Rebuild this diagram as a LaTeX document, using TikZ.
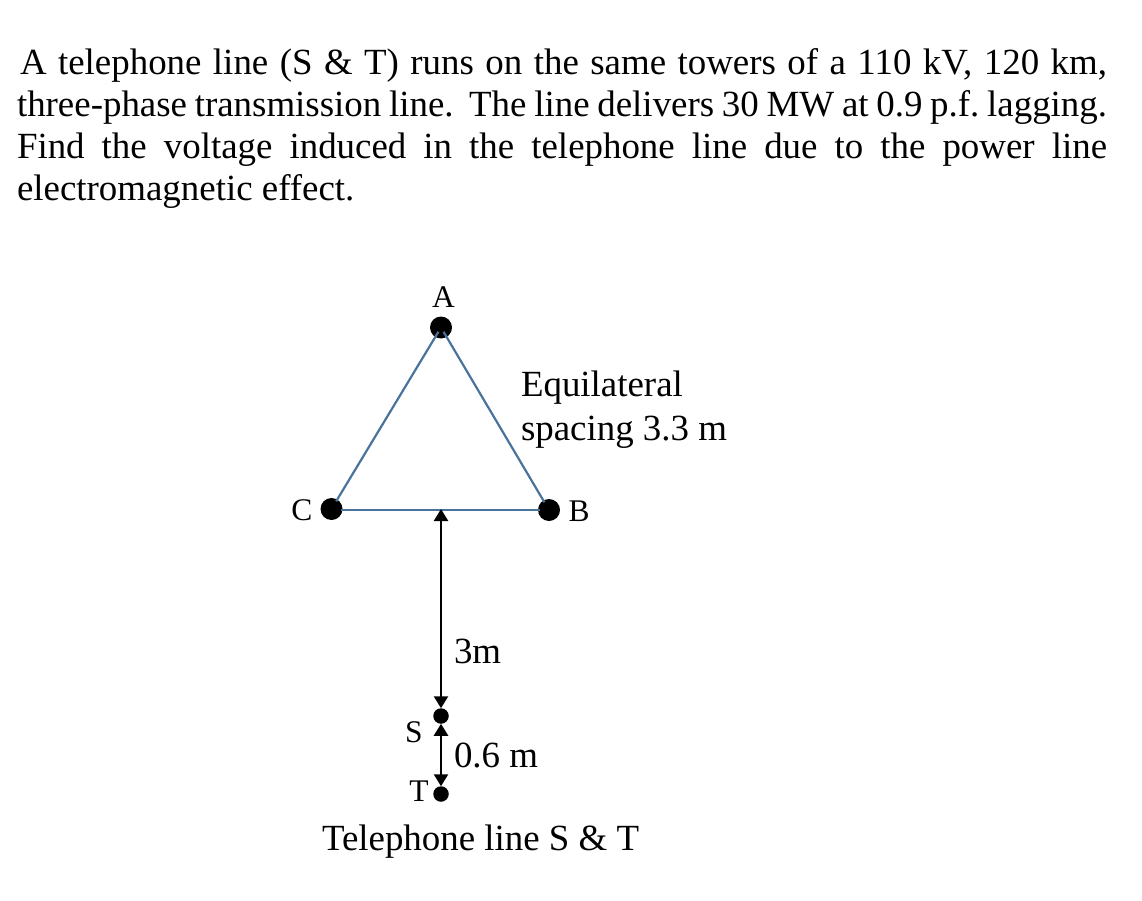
\documentclass[tikz,border=0pt]{standalone}
\usepackage{fontspec}
\setmainfont{Liberation Serif}
\usetikzlibrary{arrows.meta}
\definecolor{edgeblue}{HTML}{4A739C}
\tikzset{
  x=1pt,y=-1pt,
  body/.style={inner sep=0pt,outer sep=0pt,anchor=base west,font=\fontsize{36.9pt}{42pt}\selectfont},
  lab/.style={inner sep=0pt,outer sep=0pt,anchor=base,font=\fontsize{31.5pt}{36pt}\selectfont},
  bigdot/.style={circle,fill=black,minimum size=22pt,inner sep=0pt,outer sep=0pt},
  smalldot/.style={circle,fill=black,minimum size=15.5pt,inner sep=0pt,outer sep=0pt},
  edge/.style={draw=edgeblue,line width=2.2pt},
  dimboth/.style={draw=black,line width=2.4pt,{Triangle[length=12pt,width=14pt]}-{Triangle[length=12pt,width=14pt]}},
}
\begin{document}
\frenchspacing
\begin{tikzpicture}
\useasboundingbox (0,0) rectangle (1142,901);
\node[inner sep=0pt,outer sep=0pt,anchor=north west,text width=1090pt,align=justify,font=\fontsize{36.9pt}{42pt}\selectfont] (para) at (17,49)
{\hspace*{3pt}A telephone line (S \& T) runs on the same towers of a 110 kV, 120 km,\linebreak
three-phase transmission line.\ \ The line delivers 30 MW at 0.9 p.f. lagging.\linebreak
Find the voltage induced in the telephone line due to the power line\linebreak
electromagnetic effect.};
\node[bigdot] (A) at (441,327.5) {};
\node[bigdot] (C) at (331.5,509) {};
\node[bigdot] (B) at (549,510) {};
\node[smalldot] (S) at (441,716) {};
\node[smalldot] (T) at (441,794) {};
\coordinate (M) at (441,509);
\draw[edge,shorten >=9pt,shorten <=5pt] (A.center) -- (C.center);
\draw[edge,shorten >=9pt,shorten <=5pt] (A.center) -- (B.center);
\draw[edge,shorten >=9pt,shorten <=9pt] (C.center |- B.center) -- (B.center);
\draw[dimboth] (M) -- (S);
\draw[dimboth] (S) -- (T);
\node[lab] (la) at (443.5,307) {A};
\node[lab] (lc) at (302,520) {C};
\node[lab] (lb) at (579,521) {B};
\node[lab] (ls) at (414,742) {S};
\node[lab] (lt) at (419,801) {T};
\node[body] (eq1) at (521,396) {Equilateral};
\node[body] (eq2) at (521,440) {spacing 3.3 m};
\node[body] (d1) at (454,663) {3m};
\node[body] (d2) at (454,767) {0.6 m};
\node[body] (tl) at (322,850) {Telephone line S \& T};
\end{tikzpicture}
\end{document}
